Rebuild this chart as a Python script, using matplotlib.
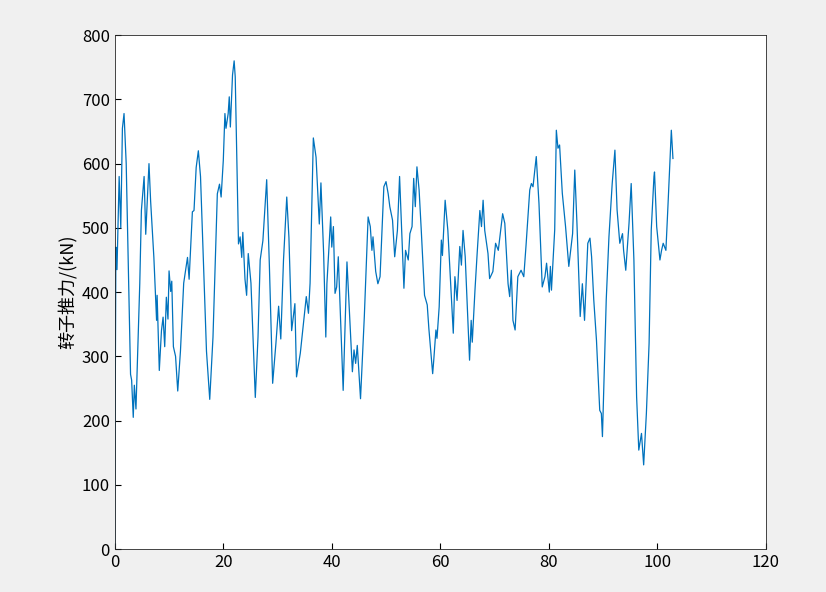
import matplotlib.pyplot as plt

plt.rcParams['font.family'] = ['Noto Sans CJK SC', 'DejaVu Sans']

# 读自截图的近似点
x = [0, 0, 0.2, 0.4, 0.8, 1.1, 1.4, 1.7, 2.1, 2.9, 3.1, 3.4, 3.6, 3.9, 4.6, 4.9, 5.4, 5.7, 6.0, 6.3,
     6.6, 7.2, 7.7, 7.8, 8.2, 8.6, 8.9, 9.2, 9.5, 9.8, 10.0, 10.3, 10.5, 10.8, 11.2, 11.6, 12.1, 12.7, 13.4, 13.7,
     14.3, 14.6, 15.0, 15.4, 15.8, 16.9, 17.5, 18.1, 18.9, 19.3, 19.6, 20.0, 20.3, 20.5, 20.9, 21.1, 21.3, 21.7, 22.0, 22.2,
     22.8, 23.1, 23.4, 23.6, 24.0, 24.3, 24.6, 25.1, 25.9, 26.4, 26.8, 27.3, 27.7, 28.0, 28.5, 29.1, 29.7, 30.2, 30.6, 31.1,
     31.7, 32.1, 32.6, 33.2, 33.5, 34.2, 35.3, 35.7, 36.0, 36.6, 37.1, 37.7, 38.0, 38.5, 38.9, 39.1, 39.8, 40.0, 40.3, 40.6,
     40.9, 41.2, 42.1, 42.8, 43.8, 44.1, 44.4, 44.7, 45.3, 46.0, 46.7, 47.1, 47.4, 47.6, 48.1, 48.5, 48.9, 49.6, 50.0, 50.4,
     50.7, 51.2, 51.6, 52.1, 52.5, 53.3, 53.6, 54.1, 54.4, 54.8, 55.1, 55.4, 55.7, 56.1, 56.5, 57.1, 57.6, 57.9, 58.6, 58.8,
     59.2, 59.4, 59.8, 60.2, 60.4, 60.9, 61.4, 62.4, 62.7, 63.1, 63.6, 63.9, 64.2, 64.6, 65.1, 65.4, 65.7, 65.9, 66.4, 66.8,
     67.3, 67.6, 67.9, 68.2, 68.8, 69.1, 69.7, 70.2, 70.7, 71.5, 71.9, 72.5, 72.8, 73.1, 73.4, 73.8, 74.3, 74.9, 75.4, 75.8,
     76.5, 76.8, 77.1, 77.7, 78.2, 78.8, 79.3, 79.6, 80.1, 80.3, 80.5, 81.1, 81.4, 81.7, 82.0, 82.5, 83.1, 83.7, 84.4, 84.8,
     85.2, 85.8, 86.2, 86.6, 87.2, 87.6, 87.9, 88.3, 88.8, 89.4, 89.7, 89.9, 90.6, 91.1, 91.7, 92.2, 92.6, 93.1, 93.6, 93.8,
     94.2, 94.8, 95.2, 95.7, 96.2, 96.6, 97.1, 97.5, 98.0, 98.5, 98.9, 99.4, 99.5, 99.9, 100.5, 100.8, 101.1, 101.6, 102.0, 102.6,
     102.9]
thrust = [5, 85, 470, 435, 580, 500, 655, 678, 600, 272, 263, 205, 255, 218, 413, 527, 580, 490, 546, 600,
          542, 454, 356, 395, 278, 340, 361, 315, 392, 358, 433, 401, 417, 315, 300, 246, 308, 414, 454, 420,
          525, 527, 594, 620, 580, 308, 233, 330, 553, 568, 548, 605, 678, 655, 678, 704, 657, 738, 760, 735,
          475, 486, 454, 493, 420, 395, 460, 414, 236, 330, 450, 480, 535, 575, 440, 258, 320, 378, 327, 450,
          548, 485, 340, 382, 268, 305, 393, 367, 414, 640, 610, 506, 570, 460, 330, 413, 517, 470, 502, 398,
          408, 455, 247, 447, 276, 310, 289, 317, 234, 362, 517, 502, 465, 486, 432, 413, 424, 564, 572, 553,
          533, 512, 455, 496, 580, 406, 465, 450, 491, 502, 577, 533, 595, 559, 496, 395, 380, 343, 273, 294,
          341, 328, 377, 481, 457, 543, 496, 336, 424, 387, 471, 442, 496, 455, 356, 294, 356, 322, 403, 460,
          527, 502, 543, 496, 460, 421, 432, 476, 465, 522, 507, 413, 393, 434, 356, 341, 424, 434, 424, 471,
          559, 569, 564, 611, 538, 408, 424, 445, 400, 440, 403, 497, 652, 624, 629, 554, 502, 440, 491, 590,
          507, 362, 413, 356, 476, 484, 455, 388, 325, 216, 211, 175, 388, 486, 569, 621, 528, 476, 491, 465,
          434, 507, 569, 450, 237, 154, 180, 131, 211, 320, 497, 580, 587, 502, 450, 465, 476, 465, 538, 652,
          608]

fig = plt.figure(figsize=(8.26, 5.92), dpi=100, facecolor='#f0f0f0')
ax = fig.add_axes([0.139, 0.0726, 0.788, 0.868])
ax.plot(x, thrust, color='#0072BD', lw=0.9)
ax.set_xlim(0, 120)
ax.set_ylim(0, 800)
ax.set_xticks(range(0, 121, 20))
ax.set_yticks(range(0, 801, 100))
ax.tick_params(direction='in', labelsize=12, length=4, top=False, right=False)
for s in ax.spines.values():
    s.set_color('#262626')
    s.set_linewidth(0.6)
ax.set_ylabel('转子推力/(kN)', fontsize=13, labelpad=4)
fig.savefig('out.png', facecolor=fig.get_facecolor())
